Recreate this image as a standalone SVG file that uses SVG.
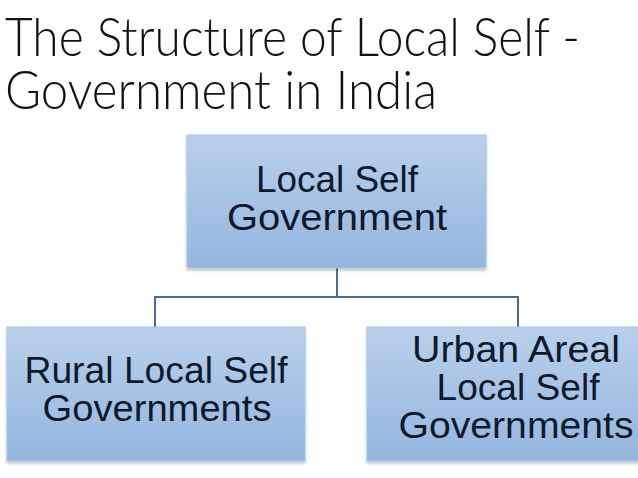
<svg xmlns="http://www.w3.org/2000/svg" width="638" height="478" viewBox="0 0 638 478">
<defs>
<linearGradient id="g" x1="0" y1="0" x2="0" y2="1">
<stop offset="0" stop-color="#b9d0ea"/>
<stop offset="1" stop-color="#93b6df"/>
</linearGradient>
<filter id="sh" x="-5%" y="-5%" width="110%" height="115%">
<feDropShadow dx="0" dy="2" stdDeviation="1.5" flood-color="#000" flood-opacity="0.25"/>
</filter>
<style>
.title{font-family:"Lato","Open Sans","Liberation Sans",sans-serif;font-weight:300;font-size:53px;fill:#111}
.box{fill:url(#g);stroke:#a9c3e2;stroke-width:1;filter:url(#sh)}
.t{font-family:"Liberation Sans","Open Sans",sans-serif;font-size:36px;fill:#0e1a2c;text-anchor:middle}
.c{stroke:#4d6c8e;stroke-width:2;fill:none}
</style>
</defs>
<rect width="638" height="478" fill="#fff"/>
<g id="title">
<text class="title" x="5" y="56" textLength="575" lengthAdjust="spacingAndGlyphs">The Structure of Local Self -</text>
<text class="title" x="5" y="109" textLength="432" lengthAdjust="spacingAndGlyphs">Government in India</text>
</g>
<g id="connectors">
<path class="c" d="M337 268 V297 M155 297 H518 M155 296 V327 M518 296 V327"/>
</g>
<g id="root">
<rect class="box" x="187" y="135" width="299" height="133"/>
<text class="t" x="337" y="192" textLength="162" lengthAdjust="spacingAndGlyphs">Local Self</text>
<text class="t" x="337" y="230" textLength="220" lengthAdjust="spacingAndGlyphs">Government</text>
</g>
<g id="rural">
<rect class="box" x="7" y="327" width="298" height="134"/>
<text class="t" x="156" y="383" textLength="263" lengthAdjust="spacingAndGlyphs">Rural Local Self</text>
<text class="t" x="157" y="421" textLength="229" lengthAdjust="spacingAndGlyphs">Governments</text>
</g>
<g id="urban">
<rect class="box" x="367" y="327" width="280" height="134"/>
<text class="t" x="516" y="362" textLength="208" lengthAdjust="spacingAndGlyphs">Urban Areal</text>
<text class="t" x="518" y="400" textLength="163" lengthAdjust="spacingAndGlyphs">Local Self</text>
<text class="t" x="516" y="438" textLength="235" lengthAdjust="spacingAndGlyphs">Governments</text>
</g>
</svg>
